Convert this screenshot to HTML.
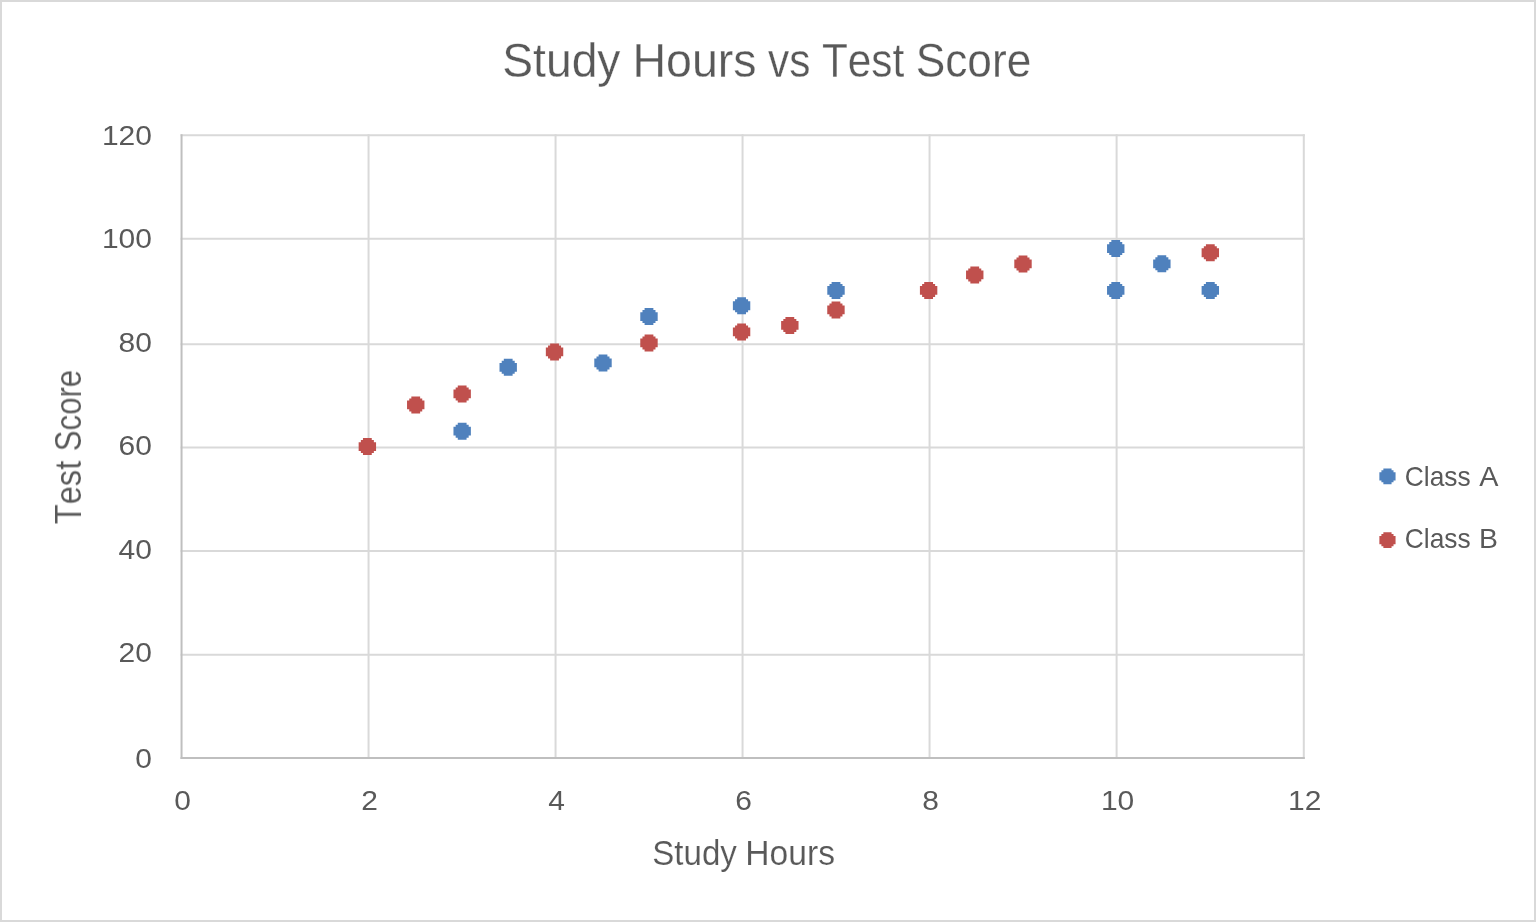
<!DOCTYPE html>
<html><head><meta charset="utf-8">
<style>
html,body{margin:0;padding:0;background:#fff;}
body{width:1536px;height:922px;overflow:hidden;}
svg{display:block;}
text{font-family:"Liberation Sans",sans-serif;fill:#595959;font-kerning:none;}
.gs{will-change:transform;}
</style></head>
<body>
<svg width="1536" height="922" viewBox="0 0 1536 922">
<defs><path id="mk" d="M-4.4 -8.5H4.4V-6.5H6.5V-4.4H8.7V4.4H6.5V6.5H4.4V8.5H-4.4V6.5H-6.5V4.4H-8.7V-4.4H-6.5V-6.5H-4.4Z"/></defs>
<g>
<rect x="1" y="1" width="1534" height="920" fill="#fff" stroke="#d9d9d9" stroke-width="2"/>
<g stroke="#d9d9d9" stroke-width="2" stroke-linecap="square">
<line x1="181.55" y1="654.64" x2="1303.80" y2="654.64"/>
<line x1="181.55" y1="551.00" x2="1303.80" y2="551.00"/>
<line x1="181.55" y1="447.60" x2="1303.80" y2="447.60"/>
<line x1="181.55" y1="344.30" x2="1303.80" y2="344.30"/>
<line x1="181.55" y1="238.83" x2="1303.80" y2="238.83"/>
<line x1="181.55" y1="135.13" x2="1303.80" y2="135.13"/>
<line x1="368.55" y1="135.13" x2="368.55" y2="757.97"/>
<line x1="555.55" y1="135.13" x2="555.55" y2="757.97"/>
<line x1="742.55" y1="135.13" x2="742.55" y2="757.97"/>
<line x1="929.55" y1="135.13" x2="929.55" y2="757.97"/>
<line x1="1116.60" y1="135.13" x2="1116.60" y2="757.97"/>
<line x1="1303.80" y1="135.13" x2="1303.80" y2="757.97"/>
</g>
<line x1="181.55" y1="134.13" x2="181.55" y2="758.97" stroke="#bfbfbf" stroke-width="2"/>
<line x1="180.55" y1="757.97" x2="1304.80" y2="757.97" stroke="#bfbfbf" stroke-width="2"/>
<g>
<use href="#mk" x="462.17" y="431.20" fill="#4F81BD"/>
<use href="#mk" x="508.20" y="367.37" fill="#4F81BD"/>
<use href="#mk" x="603.00" y="362.93" fill="#4F81BD"/>
<use href="#mk" x="648.98" y="316.60" fill="#4F81BD"/>
<use href="#mk" x="741.58" y="305.74" fill="#4F81BD"/>
<use href="#mk" x="836.00" y="290.40" fill="#4F81BD"/>
<use href="#mk" x="1115.74" y="248.54" fill="#4F81BD"/>
<use href="#mk" x="1115.74" y="290.44" fill="#4F81BD"/>
<use href="#mk" x="1161.86" y="263.78" fill="#4F81BD"/>
<use href="#mk" x="1210.32" y="290.44" fill="#4F81BD"/>
<use href="#mk" x="367.36" y="446.60" fill="#C0504D"/>
<use href="#mk" x="415.74" y="404.95" fill="#C0504D"/>
<use href="#mk" x="462.17" y="393.90" fill="#C0504D"/>
<use href="#mk" x="554.54" y="351.93" fill="#C0504D"/>
<use href="#mk" x="648.98" y="342.90" fill="#C0504D"/>
<use href="#mk" x="741.58" y="331.97" fill="#C0504D"/>
<use href="#mk" x="789.83" y="325.41" fill="#C0504D"/>
<use href="#mk" x="835.95" y="309.97" fill="#C0504D"/>
<use href="#mk" x="928.62" y="290.41" fill="#C0504D"/>
<use href="#mk" x="974.75" y="274.97" fill="#C0504D"/>
<use href="#mk" x="1023.00" y="263.97" fill="#C0504D"/>
<use href="#mk" x="1210.32" y="252.77" fill="#C0504D"/>
</g>
<g class="gs" font-size="28.3">
<text x="135.32" y="767.71" textLength="16.68" lengthAdjust="spacingAndGlyphs">0</text>
<text x="118.63" y="662.04" textLength="33.37" lengthAdjust="spacingAndGlyphs">20</text>
<text x="118.63" y="558.74" textLength="33.37" lengthAdjust="spacingAndGlyphs">40</text>
<text x="118.63" y="455.24" textLength="33.37" lengthAdjust="spacingAndGlyphs">60</text>
<text x="118.63" y="351.71" textLength="33.37" lengthAdjust="spacingAndGlyphs">80</text>
<text x="101.95" y="248.49" textLength="50.05" lengthAdjust="spacingAndGlyphs">100</text>
<text x="101.95" y="144.78" textLength="50.05" lengthAdjust="spacingAndGlyphs">120</text>
<text x="174.21" y="809.7" textLength="16.68" lengthAdjust="spacingAndGlyphs">0</text>
<text x="361.21" y="809.7" textLength="16.68" lengthAdjust="spacingAndGlyphs">2</text>
<text x="548.21" y="809.7" textLength="16.68" lengthAdjust="spacingAndGlyphs">4</text>
<text x="735.21" y="809.7" textLength="16.68" lengthAdjust="spacingAndGlyphs">6</text>
<text x="922.21" y="809.7" textLength="16.68" lengthAdjust="spacingAndGlyphs">8</text>
<text x="1100.92" y="809.7" textLength="33.37" lengthAdjust="spacingAndGlyphs">10</text>
<text x="1288.12" y="809.7" textLength="33.37" lengthAdjust="spacingAndGlyphs">12</text>
</g>
<g class="thin gs">
<text x="502.30" y="76.70" font-size="49" textLength="118.19" lengthAdjust="spacingAndGlyphs" stroke="#fff" stroke-width="0.3">Study</text>
<text x="632.38" y="76.70" font-size="49" textLength="124.20" lengthAdjust="spacingAndGlyphs" stroke="#fff" stroke-width="0.3">Hours</text>
<text x="768.06" y="76.70" font-size="49" textLength="42.38" lengthAdjust="spacingAndGlyphs" stroke="#fff" stroke-width="0.3">vs</text>
<text x="821.95" y="76.70" font-size="49" textLength="82.36" lengthAdjust="spacingAndGlyphs" stroke="#fff" stroke-width="0.3">Test</text>
<text x="915.69" y="76.70" font-size="49" textLength="115.68" lengthAdjust="spacingAndGlyphs" stroke="#fff" stroke-width="0.3">Score</text>
<text x="652.30" y="864.55" font-size="35.3" textLength="84.57" lengthAdjust="spacingAndGlyphs" stroke="#fff" stroke-width="0.15">Study</text>
<text x="745.34" y="864.55" font-size="35.3" textLength="89.62" lengthAdjust="spacingAndGlyphs" stroke="#fff" stroke-width="0.15">Hours</text>
<g transform="translate(81,523.5) rotate(-90)"><text x="-0.73" y="0.00" font-size="36" textLength="63.47" lengthAdjust="spacingAndGlyphs" stroke="#fff" stroke-width="0.15">Test</text><text x="72.29" y="0.00" font-size="36" textLength="81.40" lengthAdjust="spacingAndGlyphs" stroke="#fff" stroke-width="0.15">Score</text></g>
<text x="1404.81" y="485.70" font-size="28" textLength="65.84" lengthAdjust="spacingAndGlyphs">Class</text>
<text x="1479.24" y="485.70" font-size="28" textLength="19.21" lengthAdjust="spacingAndGlyphs">A</text>
<text x="1404.81" y="547.70" font-size="28" textLength="65.84" lengthAdjust="spacingAndGlyphs">Class</text>
<text x="1478.97" y="547.70" font-size="28" textLength="18.92" lengthAdjust="spacingAndGlyphs">B</text>
</g>
<use href="#mk" transform="translate(1387.46,476.3) scale(0.93)" fill="#4F81BD"/>
<use href="#mk" transform="translate(1387.46,540.1) scale(0.93)" fill="#C0504D"/>
</g>
</svg>
</body></html>
